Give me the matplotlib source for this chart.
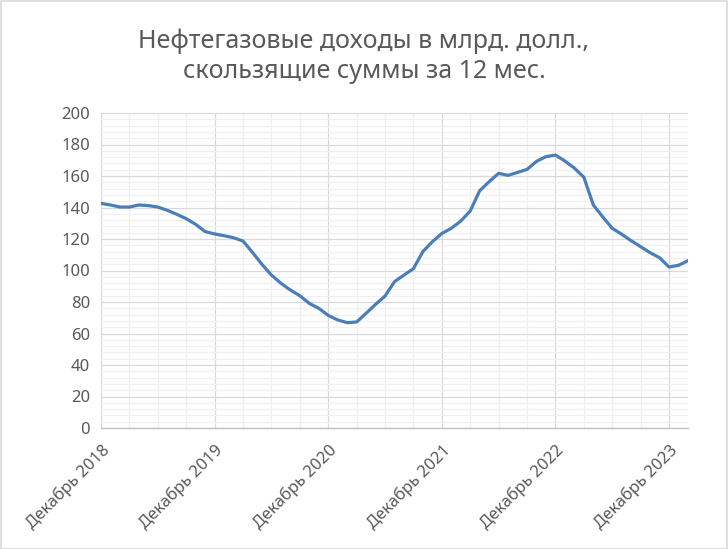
import matplotlib
matplotlib.use("Agg")
import matplotlib.pyplot as plt
from matplotlib.ticker import MultipleLocator, FixedLocator
from matplotlib.patches import Rectangle

plt.rcParams['font.family'] = ['Noto Sans', 'DejaVu Sans']

# Monthly 12-month rolling oil & gas revenues, Dec 2018 .. Feb 2024
values = [
    142.6, 141.6, 140.3, 140.3, 141.6, 141.2, 140.3, 138.2, 135.7, 132.9, 129.3, 124.7,
    123.2, 122.1, 120.8, 118.7, 111.5, 103.9, 97.1, 91.9, 87.6, 84.0, 79.1, 76.0,
    71.5, 68.6, 66.9, 67.3, 72.8, 78.5, 83.8, 92.9, 97.1, 101.2, 112.0, 118.3,
    123.5, 126.8, 131.4, 137.8, 150.7, 156.4, 161.7, 160.4, 162.3, 164.2, 169.3, 172.3,
    173.3, 169.5, 165.0, 159.2, 141.6, 134.0, 126.8, 123.0, 118.9, 115.1, 111.3, 108.1,
    102.2, 103.3, 106.2,
]
tick_labels = ["Декабрь 2018", "Декабрь 2019", "Декабрь 2020",
               "Декабрь 2021", "Декабрь 2022", "Декабрь 2023"]
title = "Нефтегазовые доходы в млрд. долл.,\nскользящие суммы за 12 мес."

W, H = 728, 549
fig = plt.figure(figsize=(W / 100, H / 100), dpi=100)
fig.patches.append(Rectangle((0.5 / W, 0.5 / H), 1 - 1.5 / W, 1 - 1.5 / H,
                             transform=fig.transFigure, fill=False,
                             edgecolor='#d9d9d9', linewidth=1.2))

left, right, top, bottom = 101, 688, 113, 428
ax = fig.add_axes([left / W, 1 - bottom / H, (right - left) / W, (bottom - top) / H])

x = list(range(len(values)))
ax.plot(x, values, color='#4A7EBB', linewidth=2.3, solid_joinstyle='round', zorder=3)

ax.set_xlim(0, len(values) - 1)
ax.set_ylim(0, 200)
ax.yaxis.set_major_locator(MultipleLocator(20))
ax.yaxis.set_minor_locator(MultipleLocator(4))
ax.xaxis.set_major_locator(FixedLocator([12 * i for i in range(len(tick_labels))]))
ax.xaxis.set_minor_locator(MultipleLocator(3))
ax.set_xticklabels(tick_labels)

ax.grid(which='major', color='#d9d9d9', linewidth=0.9)
ax.grid(which='minor', color='#f0f0f0', linewidth=0.9)
ax.set_axisbelow(True)

for s in ['top', 'right', 'left']:
    ax.spines[s].set_visible(False)
ax.spines['bottom'].set_color('#bfbfbf')
ax.spines['bottom'].set_linewidth(1.0)

ax.tick_params(which='both', length=0)
ax.tick_params(axis='y', labelsize=12, colors='#595959', pad=8)
ax.tick_params(axis='x', labelsize=12, colors='#595959', pad=10)
for lbl in ax.get_xticklabels():
    lbl.set_rotation(45)
    lbl.set_ha('right')
    lbl.set_va('top')
    lbl.set_rotation_mode('anchor')

fig.text(364 / W, 1 - 56 / H, title, ha='center', va='center',
         fontsize=18, color='#595959', linespacing=1.25)

fig.savefig("out.png", dpi=100)
